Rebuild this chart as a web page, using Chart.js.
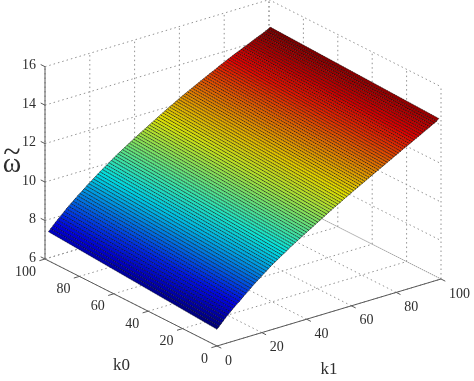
<!DOCTYPE html>
<html>
<head>
<meta charset="utf-8">
<style>
html, body { margin: 0; padding: 0; background: #fff; }
canvas { display: block; filter: blur(0.35px); }
</style>
</head>
<body>
<canvas id="surfaceChart" width="474" height="381"></canvas>
<script src="https://cdn.jsdelivr.net/npm/chart.js@4"></script>
<script>
const k0Ticks = [0, 20, 40, 60, 80, 100];
const k1Ticks = [0, 20, 40, 60, 80, 100];
const omegaTicks = [6, 8, 10, 12, 14, 16];

// the two long edges of the surface
const k0Edges = [0, 98];
const k1Rows = [
  0, 1, 2, 3, 4, 5, 6, 7, 8, 9, 10, 11, 12, 13, 14, 15, 16, 17, 18, 19,
  20, 21, 22, 23, 24, 25, 26, 27, 28, 29, 30, 31, 32, 33, 34, 35, 36, 37, 38, 39,
  40, 41, 42, 43, 44, 45, 46, 47, 48, 49, 50, 51, 52, 53, 54, 55, 56, 57, 58, 59,
  60, 61, 62, 63, 64, 65, 66, 67, 68, 69, 70, 71, 72, 73, 74, 75, 76, 77, 78, 79,
  80, 81, 82, 83, 84, 85, 86, 87, 88, 89, 90, 91, 92, 93, 94, 95, 96, 97, 98, 99
];
const omegaLow = [
  6.87, 6.99, 7.11, 7.23, 7.35, 7.46, 7.57, 7.68, 7.78, 7.88,
  7.97, 8.08, 8.18, 8.28, 8.38, 8.48, 8.58, 8.68, 8.77, 8.86,
  8.95, 9.04, 9.13, 9.22, 9.31, 9.39, 9.47, 9.55, 9.63, 9.71,
  9.78, 9.86, 9.94, 10.02, 10.09, 10.16, 10.23, 10.31, 10.38, 10.45,
  10.52, 10.59, 10.66, 10.73, 10.80, 10.87, 10.94, 11.01, 11.08, 11.15,
  11.22, 11.29, 11.36, 11.42, 11.49, 11.55, 11.62, 11.69, 11.75, 11.82,
  11.88, 11.95, 12.01, 12.07, 12.14, 12.20, 12.26, 12.33, 12.39, 12.46,
  12.52, 12.58, 12.65, 12.71, 12.77, 12.83, 12.90, 12.96, 13.02, 13.09,
  13.15, 13.21, 13.27, 13.34, 13.40, 13.46, 13.52, 13.58, 13.65, 13.71,
  13.77, 13.83, 13.90, 13.96, 14.02, 14.08, 14.15, 14.21, 14.27, 14.38
];
const omegaHigh = [
  7.51, 7.63, 7.75, 7.87, 7.98, 8.09, 8.20, 8.31, 8.42, 8.52,
  8.62, 8.72, 8.82, 8.92, 9.01, 9.10, 9.19, 9.29, 9.38, 9.47,
  9.56, 9.65, 9.74, 9.82, 9.91, 9.99, 10.07, 10.15, 10.24, 10.32,
  10.40, 10.48, 10.55, 10.63, 10.70, 10.78, 10.85, 10.92, 11.00, 11.07,
  11.14, 11.21, 11.28, 11.35, 11.42, 11.49, 11.56, 11.63, 11.70, 11.77,
  11.84, 11.91, 11.98, 12.04, 12.11, 12.17, 12.24, 12.31, 12.37, 12.44,
  12.50, 12.56, 12.62, 12.68, 12.74, 12.80, 12.86, 12.92, 12.98, 13.04,
  13.10, 13.16, 13.22, 13.27, 13.33, 13.39, 13.45, 13.51, 13.56, 13.62,
  13.68, 13.73, 13.79, 13.84, 13.89, 13.94, 14.00, 14.05, 14.10, 14.15,
  14.20, 14.25, 14.31, 14.36, 14.41, 14.46, 14.51, 14.57, 14.62, 14.70
];

// fixed view of the box, in picture pixels per data unit
const ORIGIN = { x: 217, y: 346 };
const K0_STEP = { x: -1.72, y: -0.87 };
const K1_STEP = { x: 2.24, y: -0.67 };
const OMEGA_STEP = -19.23;
const OMEGA_BASE = 6;
const COLOR_MIN = 6.87;
const COLOR_MAX = 14.7;

function project(k0, k1, omega) {
  return {
    x: ORIGIN.x + k0 * K0_STEP.x + k1 * K1_STEP.x,
    y: ORIGIN.y + k0 * K0_STEP.y + k1 * K1_STEP.y + (omega - OMEGA_BASE) * OMEGA_STEP
  };
}

// jet colormap, dimmed a little for the black facet edges
function jet(omega) {
  const t = Math.min(1, Math.max(0, (omega - COLOR_MIN) / (COLOR_MAX - COLOR_MIN)));
  const ramp = c => Math.min(1, Math.max(0, 1.5 - Math.abs(4 * t - c)));
  const shade = 0.88;
  const r = Math.round(255 * ramp(3) * shade);
  const g = Math.round(255 * ramp(2) * shade);
  const b = Math.round(255 * ramp(1) * shade);
  return `rgb(${r},${g},${b})`;
}

function stripGradient(context, low, high, omegaA, omegaB) {
  const chart = context.chart;
  const sx = chart.scales.x;
  const sy = chart.scales.y;
  if (!sx || !sy) return jet(omegaA);
  const coords = [
    sx.getPixelForValue(low.x), sy.getPixelForValue(low.y),
    sx.getPixelForValue(high.x), sy.getPixelForValue(high.y)
  ];
  if (!coords.every(Number.isFinite)) return jet(omegaA);
  const g = chart.ctx.createLinearGradient(...coords);
  g.addColorStop(0, jet(omegaA));
  g.addColorStop(1, jet(omegaB));
  return g;
}

const datasets = [];

// surface, one filled strip per k1 row
for (let i = 0; i < k1Rows.length - 1; i++) {
  const a = project(k0Edges[0], k1Rows[i], omegaLow[i]);
  const b = project(k0Edges[1], k1Rows[i], omegaHigh[i]);
  const c = project(k0Edges[1], k1Rows[i + 1], omegaHigh[i + 1]);
  const d = project(k0Edges[0], k1Rows[i + 1], omegaLow[i + 1]);
  const omegaA = (omegaLow[i] + omegaLow[i + 1]) / 2;
  const omegaB = (omegaHigh[i] + omegaHigh[i + 1]) / 2;
  datasets.push({
    data: [a, b, c, d, a],
    showLine: true,
    fill: 'shape',
    backgroundColor: ctx => stripGradient(ctx, a, b, omegaA, omegaB),
    borderColor: 'rgba(0,0,0,0.6)',
    borderWidth: 1,
    borderDash: [1.4, 0.6],
    pointRadius: 0,
    order: 0
  });
}

function addGrid(from, to) {
  datasets.push({
    data: [from, to],
    showLine: true,
    borderColor: '#929292',
    borderWidth: 1,
    borderDash: [1.5, 3],
    pointRadius: 0,
    order: 2
  });
}

function addAxis(from, to) {
  datasets.push({
    data: [from, to],
    showLine: true,
    borderColor: '#5a5a5a',
    borderWidth: 1,
    pointRadius: 0,
    order: 1
  });
}

const k0Top = k0Ticks[k0Ticks.length - 1];
const k1Top = k1Ticks[k1Ticks.length - 1];
const omegaBottom = omegaTicks[0];
const omegaTop = omegaTicks[omegaTicks.length - 1];

k0Ticks.forEach(k0 => {
  addGrid(project(k0, 0, omegaBottom), project(k0, k1Top, omegaBottom));
  addGrid(project(k0, k1Top, omegaBottom), project(k0, k1Top, omegaTop));
});
k1Ticks.forEach(k1 => {
  addGrid(project(0, k1, omegaBottom), project(k0Top, k1, omegaBottom));
  addGrid(project(k0Top, k1, omegaBottom), project(k0Top, k1, omegaTop));
});
omegaTicks.forEach(omega => {
  addGrid(project(k0Top, 0, omega), project(k0Top, k1Top, omega));
  addGrid(project(k0Top, k1Top, omega), project(0, k1Top, omega));
});

addAxis(project(0, 0, omegaBottom), project(k0Top, 0, omegaBottom));
addAxis(project(0, 0, omegaBottom), project(0, k1Top, omegaBottom));
addAxis(project(k0Top, 0, omegaBottom), project(k0Top, 0, omegaTop));
k0Ticks.forEach(k0 => addAxis(project(k0, 0, omegaBottom), project(k0, -2.5, omegaBottom)));
k1Ticks.forEach(k1 => addAxis(project(0, k1, omegaBottom), project(-2.5, k1, omegaBottom)));
omegaTicks.forEach(omega => addAxis(project(k0Top, 0, omega), project(k0Top + 2.5, 0, omega)));

// tick labels and axis titles, placed through the chart scales
const boxLabels = {
  id: 'boxLabels',
  afterDraw(chart) {
    const { ctx, scales } = chart;
    const put = (text, p, dx, dy, align, font) => {
      ctx.font = font;
      ctx.textAlign = align;
      ctx.textBaseline = 'middle';
      ctx.fillText(text, scales.x.getPixelForValue(p.x) + dx, scales.y.getPixelForValue(p.y) + dy);
    };
    const tickFont = '14px "Liberation Serif"';
    ctx.save();
    ctx.fillStyle = '#2e2e2e';
    k0Ticks.forEach(k0 => put(String(k0), project(k0, 0, omegaBottom), -9, 13, 'right', tickFont));
    k1Ticks.forEach(k1 => put(String(k1), project(0, k1, omegaBottom), 8, 15, 'left', tickFont));
    omegaTicks.forEach(omega => put(String(omega), project(k0Top, 0, omega), -9, -1, 'right', tickFont));
    put('k0', project(55, 0, omegaBottom), -1, 67, 'center', '17px "Liberation Serif"');
    put('k1', project(0, 50, omegaBottom), 0, 57, 'center', '17px "Liberation Serif"');
    put('ω', project(k0Top, 0, 11), -33, 2, 'center', '28px "Liberation Serif"');
    put('~', project(k0Top, 0, 11), -33, -9, 'center', '32px "Liberation Serif"');
    ctx.restore();
  }
};

new Chart(document.getElementById('surfaceChart'), {
  type: 'scatter',
  data: { datasets },
  options: {
    responsive: false,
    animation: false,
    layout: { padding: 0 },
    clip: false,
    plugins: {
      legend: { display: false },
      tooltip: { enabled: false }
    },
    scales: {
      x: { type: 'linear', display: false, min: 0, max: 474 },
      y: { type: 'linear', display: false, min: 0, max: 381, reverse: true }
    }
  },
  plugins: [boxLabels]
});
</script>
</body>
</html>
